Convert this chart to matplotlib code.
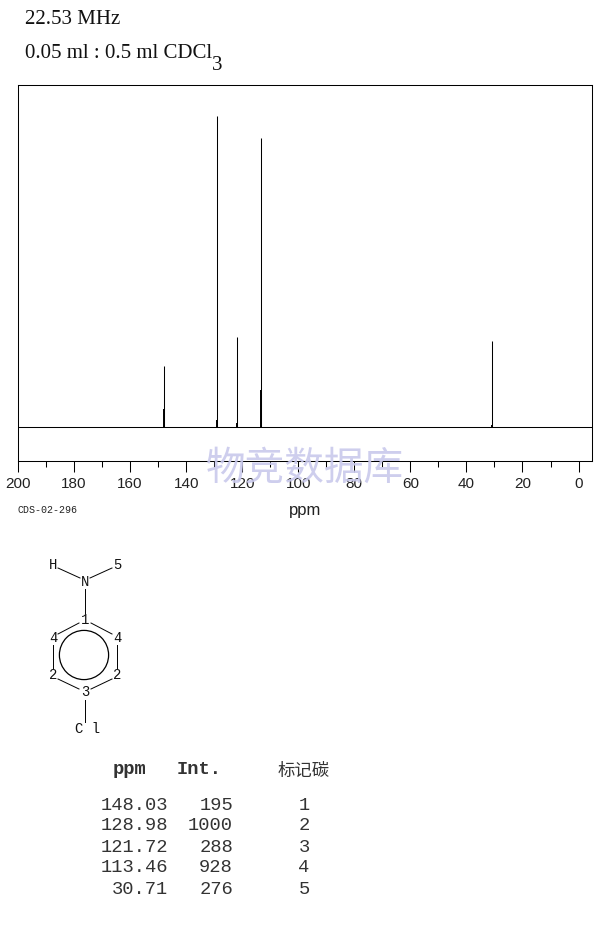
import matplotlib
matplotlib.use('Agg')
import matplotlib.pyplot as plt
from matplotlib.patches import Circle

W, H = 609, 935

# ---------------- DATA ----------------
ppm_values = [148.03, 128.98, 121.72, 113.46, 30.71]
intensities = [195, 1000, 288, 928, 276]
carbon_labels = ['1', '2', '3', '4', '5']
# thicker foot of each peak
foot_heights = [58, 22, 14, 118, 6]
major_ticks = [200, 180, 160, 140, 120, 100, 80, 60, 40, 20, 0]
minor_ticks = [190, 170, 150, 130, 110, 90, 70, 50, 30, 10]

atoms = [('H', 53, 565), ('5', 117, 565), ('N', 85, 582), ('1', 85, 620),
         ('4', 53, 638), ('4', 117, 638), ('2', 53, 675), ('2', 117, 675),
         ('3', 85, 692), ('C l', 88, 729)]
bonds = [(58, 568, 80, 578), (112, 568, 90, 578), (85, 589, 85, 613),
         (79, 623, 58, 634), (91, 623, 112, 634), (53, 645, 53, 668),
         (117, 645, 117, 668), (58, 679, 79, 689), (112, 679, 91, 689),
         (85, 700, 85, 722)]

BLACK = '#000000'
THIN = 0.75

fig = plt.figure(figsize=(W / 100, H / 100), dpi=100, facecolor='white')

# ---------------- SPECTRUM ----------------
left, right, top, bottom = 18, 592, 85, 461
ax = fig.add_axes([left / W, 1 - bottom / H, (right - left) / W, (bottom - top) / H])
ax.set_xlim(200, -4.8)
ax.set_ylim(-109.3, 1099.7)
ax.axhline(0, color=BLACK, lw=THIN)
ax.vlines(ppm_values, 0, intensities, color=BLACK, lw=THIN)
ax.vlines(ppm_values, 0, foot_heights, color=BLACK, lw=1.4)

ax.set_xticks(major_ticks)
ax.set_xticks(minor_ticks, minor=True)
ax.set_yticks([])
ax.tick_params(axis='x', which='major', length=8, width=THIN, pad=3.5, labelsize=11)
ax.tick_params(axis='x', which='minor', length=4.5, width=THIN)
for label in ax.get_xticklabels():
    label.set_family('Liberation Sans')
    label.set_color('#222222')
for spine in ax.spines.values():
    spine.set_linewidth(THIN)

# ---------------- OVERLAY (pixel coordinates) ----------------
ov = fig.add_axes([0, 0, 1, 1], zorder=5)
ov.set_xlim(0, W)
ov.set_ylim(H, 0)
ov.axis('off')
ov.patch.set_alpha(0)

serif = dict(family='Liberation Serif', fontsize=15, va='center', color='#111111')
ov.text(25, 19, '22.53 MHz', **serif)
ov.text(25, 53, '0.05 ml : 0.5 ml CDCl', **serif)
ov.text(212, 65, '3', **serif)

ov.text(305, 468, '物竞数据库', family='Noto Sans CJK SC', fontsize=28.5, ha='center', va='center',
        color='#c9c9ec', alpha=0.9)

ov.text(18, 510, 'CDS-02-296', family='Liberation Mono', fontsize=7.2, va='center', color='#222222')
ov.text(305, 510, 'ppm', family='Liberation Sans', fontsize=12, ha='center', va='center', color='#222222')

# structure
for x0, y0, x1, y1 in bonds:
    ov.plot([x0, x1], [y0, y1], color=BLACK, lw=0.7)
ov.add_patch(Circle((84, 655), 24.6, fill=False, ec=BLACK, lw=0.9))
for name, x, y in atoms:
    ov.text(x, y, name, family='Liberation Mono', fontsize=10, ha='center', va='center', color='#111111')

# peak table
mono = dict(family='Liberation Mono', fontsize=13.5, va='center', color='#333333')
ov.text(129, 769, 'ppm', ha='center', fontweight='bold', **mono)
ov.text(199, 769, 'Int.', ha='center', fontweight='bold', **mono)
ov.text(304, 771, '标记碳', family='Noto Sans CJK SC', fontsize=12.5, ha='center', va='center', color='#333333')

row_y = [805, 826, 847, 868, 889]
for y, p, i, c in zip(row_y, ppm_values, intensities, carbon_labels):
    ov.text(168, y, f'{p:.2f}', ha='right', **mono)
    ov.text(233, y, str(i), ha='right', **mono)
    ov.text(304, y, c, ha='center', **mono)

fig.savefig('out.png', dpi=100)
